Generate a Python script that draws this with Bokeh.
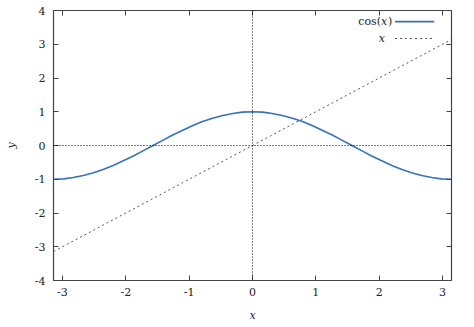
from bokeh.plotting import figure
from bokeh.models import Range1d, FixedTicker, LinearAxis, Span, Label
from bokeh.embed import file_html
from bokeh.resources import INLINE

# cos(x)
cos_x = [-3.14, -2.98, -2.83, -2.67, -2.51, -2.36, -2.20, -2.04, -1.88, -1.73, -1.57,
         -1.41, -1.26, -1.10, -0.94, -0.79, -0.63, -0.47, -0.31, -0.16, 0.00,
         0.16, 0.31, 0.47, 0.63, 0.79, 0.94, 1.10, 1.26, 1.41, 1.57,
         1.73, 1.88, 2.04, 2.20, 2.36, 2.51, 2.67, 2.83, 2.98, 3.14]
cos_y = [-1.00, -0.99, -0.95, -0.89, -0.81, -0.71, -0.59, -0.45, -0.31, -0.16, 0.00,
         0.16, 0.31, 0.45, 0.59, 0.71, 0.81, 0.89, 0.95, 0.99, 1.00,
         0.99, 0.95, 0.89, 0.81, 0.71, 0.59, 0.45, 0.31, 0.16, 0.00,
         -0.16, -0.31, -0.45, -0.59, -0.71, -0.81, -0.89, -0.95, -0.99, -1.00]
# y = x line
lin_x = [-3.14, 3.14]
lin_y = [-3.14, 3.14]

x_ticks = [-3, -2, -1, 0, 1, 2, 3]
y_ticks = [-4, -3, -2, -1, 0, 1, 2, 3, 4]

FONT = "DejaVu Serif"
AXC = "#444444"

p = figure(width=474, height=327, output_backend="svg", toolbar_location=None,
           x_range=Range1d(-3.14159, 3.14159), y_range=Range1d(-4, 4),
           min_border_left=53, min_border_right=23, min_border_top=10, min_border_bottom=47,
           x_axis_label="x", y_axis_label="y")
p.frame_width = 398
p.frame_height = 270
p.grid.visible = False
p.outline_line_color = None
p.background_fill_color = "white"
p.border_fill_color = "white"

def style(ax, ticks, labels=True):
    ax.ticker = FixedTicker(ticks=ticks)
    ax.major_label_overrides = {t: str(t) for t in ticks}
    ax.minor_tick_line_color = None
    ax.major_tick_in = 5
    ax.major_tick_out = 0
    ax.axis_line_color = AXC
    ax.axis_line_width = 1.2
    ax.major_tick_line_color = AXC
    ax.major_label_text_font = FONT
    ax.major_label_text_font_size = "11px"
    ax.major_label_text_color = "#222222"
    ax.axis_label_text_font = FONT
    ax.axis_label_text_font_style = "italic"
    ax.axis_label_text_font_size = "11px"
    ax.axis_label_text_color = "#222222"
    if not labels:
        ax.major_label_text_font_size = "0px"
        ax.major_label_text_alpha = 0

style(p.xaxis[0], x_ticks)
style(p.yaxis[0], y_ticks)
p.xaxis[0].major_label_standoff = 7
p.xaxis[0].axis_label_standoff = 10
p.yaxis[0].major_label_standoff = 8
p.yaxis[0].axis_label_standoff = 14

top = LinearAxis()
style(top, x_ticks, labels=False)
p.add_layout(top, "above")
right = LinearAxis()
style(right, y_ticks, labels=False)
p.add_layout(right, "right")

p.add_layout(Span(location=0, dimension="width", line_color="black", line_dash="1 2", line_width=1))
p.add_layout(Span(location=0, dimension="height", line_color="black", line_dash="1 2", line_width=1))

BLUE = "#3572b9"
p.line(cos_x, cos_y, line_color=BLUE, line_width=1.6)
p.line(lin_x, lin_y, line_color="#555555", line_width=1, line_dash="2 3")

# legend
lx = 2.25
p.line([lx, lx + 0.62], [3.67, 3.67], line_color=BLUE, line_width=1.6)
p.line([lx, lx + 0.62], [3.17, 3.17], line_color="#555555", line_width=1, line_dash="2 3")
for txt, off, st, al in [("cos(", -14, "normal", "right"), ("x", -14, "italic", "left"), (")", -7, "normal", "left")]:
    p.add_layout(Label(x=lx, y=3.67, x_offset=off, text=txt, text_font=FONT,
                       text_font_style=st, text_font_size="11px", text_align=al,
                       text_baseline="middle", text_color="#222222"))
p.add_layout(Label(x=lx, y=3.17, x_offset=-10, text="x", text_font=FONT, text_font_style="italic",
                   text_font_size="11px", text_align="right", text_baseline="middle", text_color="#222222"))

open("out.html", "w").write(file_html(p, INLINE))
